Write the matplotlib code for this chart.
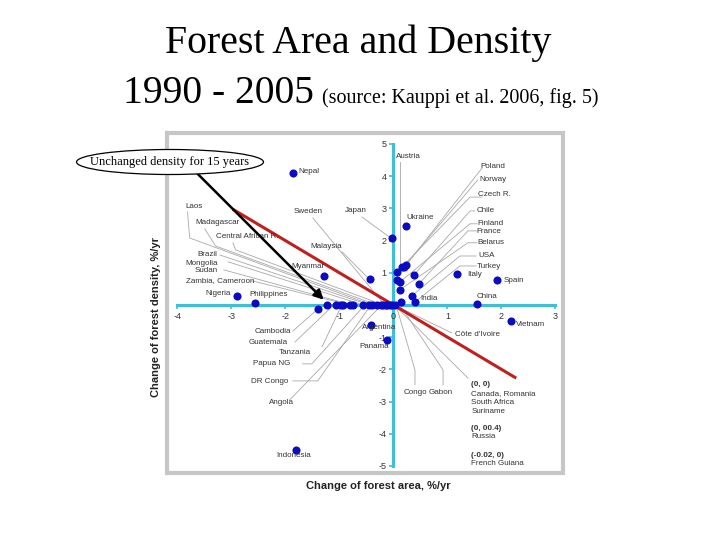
import matplotlib
matplotlib.use('Agg')
import matplotlib.pyplot as plt
from matplotlib.patches import Ellipse, Rectangle

# ---------------- data ----------------
pt_x = [-1.86, -1.29, -0.43, -0.02, -2.90, -2.56, -1.81, -1.40,
        -1.23, -1.06, -0.97, -0.94, -0.80, -0.75, -0.56, -0.45, -0.40,
        -0.30, -0.19, -0.11, -0.06, -0.22, -0.13, -0.03, 0.03,
        -0.42, -0.11, 0.23, 0.06, 0.16, 0.24, 0.19,
        0.38, 0.06, 0.12, 0.48, 0.12, 0.35, 0.14, 0.40,
        1.18, 1.91, 1.54, 2.17]
pt_y = [4.10, 0.90, 0.81, 2.08, 0.28, 0.06, -4.51, -0.12,
        0.0, 0.0, 0.0, 0.0, 0.0, 0.0, 0.0, 0.0, 0.0,
        0.0, 0.0, 0.0, 0.0, 0.0, 0.0, 0.0, 0.0,
        -0.61, -1.09, 2.46, 1.03, 1.17, 1.24, 1.19,
        0.92, 0.76, 0.70, 0.65, 0.47, 0.29, 0.09, 0.08,
        0.95, 0.78, 0.03, -0.49]

trend_x = [-2.95, 2.25]
trend_y = [2.95, -2.25]

x_ticks = [-4, -3, -2, -1, 0, 1, 2, 3]
y_ticks = [-5, -4, -3, -2, -1, 1, 2, 3, 4, 5]

# label text, x, y, horizontal alignment, bold
labels = [
    ("Nepal", -1.75, 4.13, 'left', False),
    ("Laos", -3.69, 3.07, 'center', False),
    ("Madagascar", -3.25, 2.55, 'center', False),
    ("Central African R.", -2.71, 2.11, 'center', False),
    ("Sweden", -1.58, 2.89, 'center', False),
    ("Japan", -0.69, 2.92, 'center', False),
    ("Malaysia", -1.25, 1.80, 'center', False),
    ("Brazil", -3.45, 1.58, 'center', False),
    ("Mongolia", -3.55, 1.30, 'center', False),
    ("Sudan", -3.47, 1.06, 'center', False),
    ("Zambia, Cameroon", -3.21, 0.75, 'center', False),
    ("Myanmar", -1.58, 1.18, 'center', False),
    ("Nigeria", -3.25, 0.34, 'center', False),
    ("Philippines", -2.31, 0.31, 'center', False),
    ("Austria", 0.27, 4.60, 'center', False),
    ("Poland", 1.84, 4.29, 'center', False),
    ("Norway", 1.84, 3.91, 'center', False),
    ("Czech R.", 1.88, 3.42, 'center', False),
    ("Chile", 1.71, 2.92, 'center', False),
    ("Ukraine", 0.49, 2.73, 'center', False),
    ("Finland", 1.79, 2.52, 'center', False),
    ("France", 1.77, 2.27, 'center', False),
    ("Belarus", 1.81, 1.93, 'center', False),
    ("USA", 1.73, 1.55, 'center', False),
    ("Turkey", 1.77, 1.18, 'center', False),
    ("Italy", 1.36, 0.93, 'left', False),
    ("Spain", 2.05, 0.75, 'left', False),
    ("India", 0.49, 0.19, 'left', False),
    ("China", 1.73, 0.25, 'center', False),
    ("Cambodia", -2.23, -0.84, 'center', False),
    ("Guatemala", -2.31, -1.18, 'center', False),
    ("Tanzania", -1.82, -1.49, 'center', False),
    ("Papua NG", -2.25, -1.83, 'center', False),
    ("DR Congo", -2.29, -2.39, 'center', False),
    ("Angola", -2.08, -3.04, 'center', False),
    ("Indonesia", -1.84, -4.69, 'center', False),
    ("Argentina", -0.27, -0.71, 'center', False),
    ("Panama", -0.36, -1.30, 'center', False),
    ("Vietnam", 2.27, -0.62, 'left', False),
    ("C\u00f4te d'Ivoire", 1.55, -0.93, 'center', False),
    ("Congo", 0.40, -2.73, 'center', False),
    ("Gabon", 0.88, -2.73, 'center', False),
    ("(0, 0)", 1.44, -2.48, 'left', True),
    ("Canada, Romania", 1.44, -2.76, 'left', False),
    ("South Africa", 1.44, -3.04, 'left', False),
    ("Suriname", 1.44, -3.32, 'left', False),
    ("(0, 00.4)", 1.44, -3.85, 'left', True),
    ("Russia", 1.44, -4.10, 'left', False),
    ("(-0.02, 0)", 1.44, -4.69, 'left', True),
    ("French Guiana", 1.44, -4.94, 'left', False),
]

# leader lines (polylines in data units)
leaders = [
    [(-3.81, 2.89), (-3.77, 2.08), (-0.40, 0.0)],
    [(-3.49, 2.36), (-3.29, 1.83), (-0.31, 0.0)],
    [(-2.97, 1.93), (-2.92, 1.71), (-0.19, 0.0)],
    [(-3.21, 1.55), (-0.45, 0.0)],
    [(-3.06, 1.34), (-0.56, 0.0)],
    [(-3.14, 1.09), (-0.77, 0.0)],
    [(-2.62, 0.75), (-0.81, 0.0)],
    [(-1.49, 2.70), (-0.19, 0.06)],
    [(-0.58, 2.73), (-0.05, 2.08)],
    [(-0.95, 1.65), (-0.47, 0.84)],
    [(0.13, 4.44), (0.13, 1.02)],
    [(1.64, 4.25), (0.24, 1.24)],
    [(1.56, 3.88), (0.19, 1.18)],
    [(1.64, 3.35), (1.42, 3.35), (0.16, 1.18)],
    [(1.51, 2.92), (1.42, 2.92), (0.38, 0.93)],
    [(1.55, 2.52), (1.42, 2.52), (0.12, 0.71)],
    [(1.55, 2.30), (1.38, 2.30), (0.47, 0.65)],
    [(1.55, 1.93), (1.38, 1.93), (0.12, 0.47)],
    [(1.53, 1.52), (1.23, 1.52), (0.34, 0.28)],
    [(1.53, 1.21), (1.23, 1.21), (0.40, 0.09)],
    [(-1.86, -0.81), (-1.44, -0.19)],
    [(-1.82, -1.15), (-1.14, -0.06)],
    [(-1.32, -1.30), (-0.97, -0.06)],
    [(-1.68, -1.83), (-1.51, -1.83), (-0.56, -0.06)],
    [(-1.86, -2.36), (-1.40, -2.36), (-0.44, -0.06)],
    [(-1.92, -2.95), (-0.25, -0.06)],
    [(1.08, -0.87), (-0.06, 0.06)],
    [(0.40, -2.48), (0.40, -2.02), (0.06, -0.06)],
    [(0.92, -2.48), (0.92, -2.02), (0.12, 0.0)],
    [(1.38, -2.27), (0.0, 0.03)],
]

arrow_start = (-3.64, 4.10)
arrow_end = (-1.29, 0.16)

CYAN = '#3dbfd9'
BLUE = '#0b0bc4'
RED = '#c0201c'
TXT = '#333333'

W, H = 720, 540
fig = plt.figure(figsize=(7.2, 5.4), dpi=100)
fig.patch.set_facecolor('white')

def fx(px):
    return px / W

def fy(py):
    return 1 - py / H

# titles
fig.text(fx(358.5), fy(53), "Forest Area and Density", family='Liberation Serif',
         fontsize=28.7, ha='center', va='baseline', color='black')
fig.text(fx(123), fy(103), "1990 - 2005", family='Liberation Serif',
         fontsize=28.5, ha='left', va='baseline', color='black')
fig.text(fx(322), fy(103), "(source: Kauppi et al. 2006, fig. 5)", family='Liberation Serif',
         fontsize=14.4, ha='left', va='baseline', color='black')

ax = fig.add_axes([fx(167), fy(473), (563 - 167) / W, (473 - 133) / H])
ax.set_xlim(-4.19, 3.14)
ax.set_ylim(-5.22, 5.34)
ax.set_facecolor('white')

for s in ['top', 'right']:
    ax.spines[s].set_visible(False)
ax.spines['left'].set_position(('data', 0))
ax.spines['bottom'].set_position(('data', 0))
ax.spines['left'].set_bounds(-5, 5)
ax.spines['bottom'].set_bounds(-4, 3)
for s in ['left', 'bottom']:
    ax.spines[s].set_color(CYAN)
    ax.spines[s].set_linewidth(2.2)
    ax.spines[s].set_zorder(1)

ax.set_xticks(x_ticks)
ax.set_yticks(y_ticks)
ax.set_xticklabels([str(v) for v in x_ticks])
ax.set_yticklabels([str(v) for v in y_ticks])
ax.tick_params(axis='both', direction='out', length=3, width=1.2, color=CYAN,
               labelsize=6.5, labelcolor=TXT, pad=2)
for t in ax.get_xticklabels() + ax.get_yticklabels():
    t.set_family('Liberation Sans')

# gray border
ax.add_patch(Rectangle((0, 0), 1, 1, transform=ax.transAxes, fill=False,
                       edgecolor='#c6c6c6', lw=3, clip_on=False, zorder=0))

# leader lines
for poly in leaders:
    xs = [p[0] for p in poly]
    ys = [p[1] for p in poly]
    ax.plot(xs, ys, color='#a8a8a8', lw=0.6, zorder=2)

# trend line
ax.plot(trend_x, trend_y, color=RED, lw=2.2, zorder=3)

# points
ax.scatter(pt_x, pt_y, s=34, color=BLUE, zorder=4, linewidths=0)

# labels
for txt, x, y, ha, bold in labels:
    ax.text(x, y, txt, ha=ha, va='center', fontsize=5.8, color=TXT,
            family='Liberation Sans', fontweight='bold' if bold else 'normal', zorder=5)

# axis titles
fig.text(fx(156), fy(317), "Change of forest density, %/yr", rotation=90,
         ha='center', va='center', fontsize=8, fontweight='bold', family='Liberation Sans', color='#222222')
fig.text(fx(378), fy(486), "Change of forest area, %/yr",
         ha='center', va='center', fontsize=8, fontweight='bold', family='Liberation Sans', color='#222222')

# arrow
ax.annotate("", xy=arrow_end, xytext=arrow_start,
            arrowprops=dict(arrowstyle='-|>', color='black', lw=1.8,
                            mutation_scale=14, shrinkA=0, shrinkB=0), zorder=6)

# ellipse callout
ell = Ellipse((fx(170), fy(162)), 187 / W, 25 / H, transform=fig.transFigure,
              facecolor='white', edgecolor='black', lw=0.9, zorder=10)
fig.add_artist(ell)
fig.text(fx(170), fy(162), "Unchanged density for 15 years", family='Liberation Serif',
         fontsize=9, ha='center', va='center', color='black', zorder=11)

fig.savefig('out.png', dpi=100)
